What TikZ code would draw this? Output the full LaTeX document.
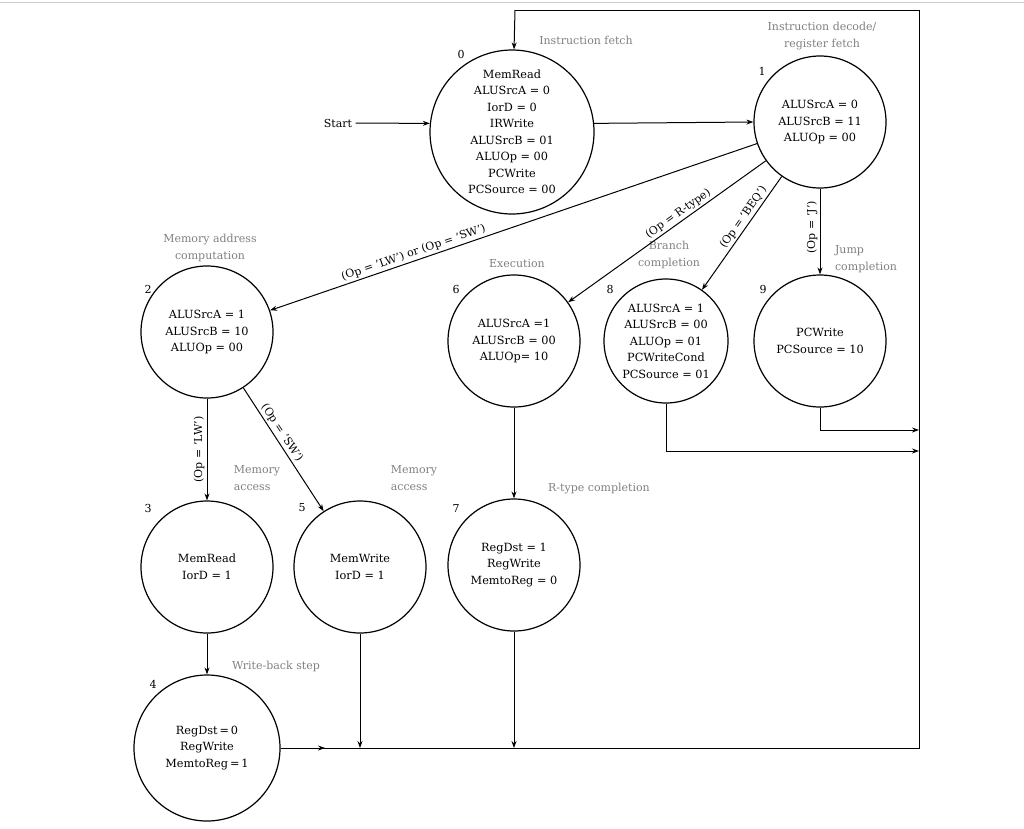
\documentclass[tikz,border=0pt]{standalone}
\usepackage{fontspec}
\setmainfont{DejaVu Serif}
\usetikzlibrary{arrows.meta}
\begin{document}
\begin{tikzpicture}[x=1pt,y=-1pt,
  st/.style={circle,draw,line width=1.2pt,align=center,inner sep=0pt,font=\fontsize{11.3}{16.5}\selectfont},
  lb/.style={text=gray,align=center,font=\fontsize{11}{17}\selectfont},
  num/.style={font=\fontsize{11}{13}\selectfont},
  ar/.style={-{Stealth[length=7pt,width=5pt]},line width=1pt},
  ln/.style={line width=1pt},
  el/.style={font=\fontsize{11}{13}\selectfont,sloped,above,inner sep=2pt}]
\useasboundingbox (0,0) rectangle (1024,828);
\draw[gray!40] (0,2) -- (1024,2);
\node[st,minimum size=164pt] (s0) at (512,132) {MemRead\\ALUSrcA = 0\\IorD = 0\\IRWrite\\ALUSrcB = 01\\ALUOp = 00\\PCWrite\\PCSource = 00};
\node[st,minimum size=132pt] (s1) at (820,122) {ALUSrcA = 0\\ALUSrcB = 11\\ALUOp = 00};
\node[st,minimum size=132pt] (s2) at (207,332) {ALUSrcA = 1\\ALUSrcB = 10\\ALUOp = 00};
\node[st,minimum size=132pt] (s6) at (514,341) {ALUSrcA =1\\ALUSrcB = 00\\ALUOp= 10};
\node[st,minimum size=124pt] (s8) at (666,341) {ALUSrcA = 1\\ALUSrcB = 00\\ALUOp = 01\\PCWriteCond\\PCSource = 01};
\node[st,minimum size=132pt] (s9) at (820,341) {PCWrite\\PCSource = 10};
\node[st,minimum size=132pt] (s3) at (207,567) {MemRead\\IorD = 1};
\node[st,minimum size=132pt] (s5) at (360,567) {MemWrite\\IorD = 1};
\node[st,minimum size=132pt] (s7) at (514,565) {RegDst = 1\\RegWrite\\MemtoReg = 0};
\node[st,minimum size=146pt] (s4) at (207,748) {RegDst\,=\,0\\RegWrite\\MemtoReg\,=\,1};
% numbers
\node[num] at (461,54) {0}; \node[num] at (762,71) {1};
\node[num] at (148,289) {2}; \node[num] at (456,289) {6};
\node[num] at (610,289) {8}; \node[num] at (763,289) {9};
\node[num] at (148,508) {3}; \node[num] at (302,508) {5};
\node[num] at (456,508) {7}; \node[num] at (153,684) {4};
% gray labels
\node[lb] at (586,40) {Instruction fetch};
\node[lb] at (822,36) {Instruction decode/\\register fetch};
\node[lb] at (210,248) {Memory address\\computation};
\node[lb] at (517,264) {Execution};
\node[lb] at (669,255) {Branch\\completion};
\node[lb,align=left] at (866,259) {Jump\\completion};
\node[lb,align=left] at (257,478) {Memory\\access};
\node[lb,align=left] at (414,478) {Memory\\access};
\node[lb] at (599,489) {R-type completion};
\node[lb] at (276,666) {Write-back step};
% start
\node[font=\fontsize{11}{13}\selectfont] (start) at (338,123) {Start};
\draw[ar] (start) -- (s0.174);
\draw[ar] (s0.6) -- (s1.180);
\draw[ar] (s1) -- node[el,pos=0.7]{(Op = 'LW') or (Op = 'SW')} (s2);
\draw[ar] (s1) -- node[el,pos=0.42]{(Op = R-type)} (s6);
\draw[ar] (s1) -- node[el,pos=0.4]{(Op = 'BEQ')} (s8);
\draw[ar] (s1.270) -- node[pos=0.45,rotate=90,above,inner sep=2pt,font=\fontsize{11}{13}\selectfont]{(Op = 'J')} (s9);
\draw[ar] (s2) -- node[pos=0.5,rotate=90,above,inner sep=2pt,font=\fontsize{11}{13}\selectfont]{(Op = 'LW')} (s3);
\draw[ar] (s2) -- node[el,pos=0.4]{(Op = 'SW')} (s5);
\draw[ar] (s3) -- (s4);
\draw[ar] (s6) -- (s7);
% return paths
\coordinate (tr) at (919,10); \coordinate (tl) at (515,10);
\coordinate (br) at (919,748);
\draw[ln] (s4.east) -- (br) -- (tr) -- (tl);
\draw[ar] (tl) -- (s0);
\draw[ar] (s4.east) -- (325,748);
\coordinate (b5) at (360,748); \coordinate (b7) at (514,748);
\draw[ar] (s5) -- (b5);
\draw[ar] (s7) -- (b7);
\coordinate (k9) at (820,430); \coordinate (e9) at (919,430);
\draw[ln] (s9) -- (k9); \draw[ar] (k9) -- (e9);
\coordinate (k8) at (666,451); \coordinate (e8) at (919,451);
\draw[ln] (s8) -- (k8); \draw[ar] (k8) -- (e8);
\end{tikzpicture}
\end{document}
